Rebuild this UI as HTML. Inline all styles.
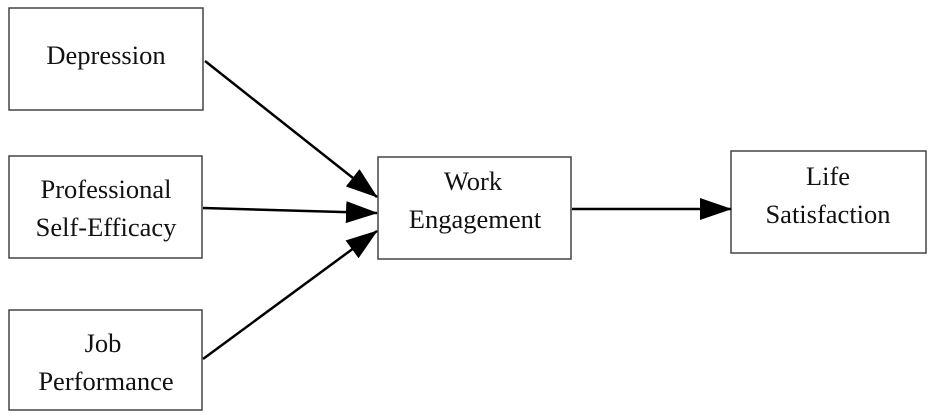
<!DOCTYPE html>
<html><head><style>
body{margin:0;background:#fff;}
svg{display:block;}
text{font-family:"Liberation Serif",serif;font-size:26.5px;fill:#111;text-anchor:middle;}
rect{fill:#fff;stroke:#444;stroke-width:1.5;}
line{stroke:#000;stroke-width:2.5;}
</style></head><body>
<svg width="935" height="416" viewBox="0 0 935 416">
<defs><marker id="a" markerWidth="32" markerHeight="22" refX="31" refY="11" orient="auto" markerUnits="userSpaceOnUse"><path d="M0,0 L32,11 L0,22 z" fill="#000"/></marker></defs>
<rect x="9" y="8" width="194" height="102"/>
<rect x="9" y="156" width="193" height="102"/>
<rect x="9" y="310" width="193" height="100"/>
<rect x="378" y="157" width="193" height="102"/>
<rect x="731" y="151" width="195" height="102"/>
<text x="106" y="64">Depression</text>
<text x="106" y="198">Professional</text>
<text x="106" y="236">Self-Efficacy</text>
<text x="103" y="352">Job</text>
<text x="106" y="390">Performance</text>
<text x="473" y="190">Work</text>
<text x="475" y="228">Engagement</text>
<text x="828" y="185">Life</text>
<text x="828" y="223">Satisfaction</text>
<line x1="205" y1="61" x2="377" y2="197" marker-end="url(#a)"/>
<line x1="203" y1="208" x2="377" y2="213" marker-end="url(#a)"/>
<line x1="203" y1="359" x2="377" y2="231" marker-end="url(#a)"/>
<line x1="572" y1="209" x2="731" y2="209" marker-end="url(#a)"/>
</svg>
</body></html>
